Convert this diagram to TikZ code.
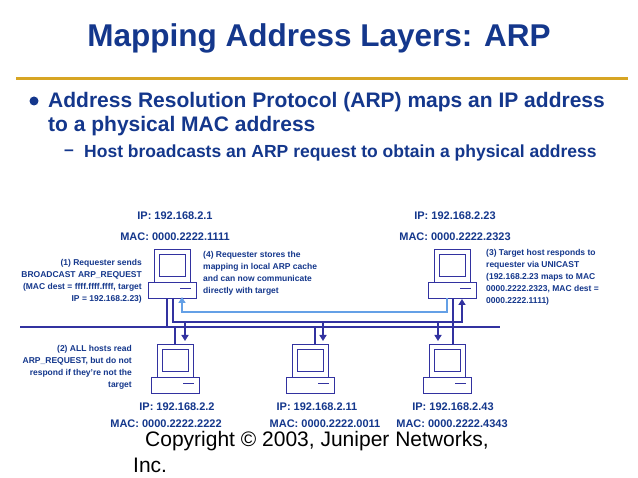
\documentclass[tikz,border=0pt]{standalone}
\usepackage{fontspec}
\setmainfont{Liberation Sans}
\usetikzlibrary{arrows.meta}
\definecolor{dblue}{RGB}{20,55,140}
\definecolor{lblue}{RGB}{100,160,230}
\definecolor{lineblue}{RGB}{50,50,160}
\definecolor{gold}{RGB}{215,165,35}
\tikzset{
 lbl/.style={text=dblue,font=\bfseries\fontsize{11}{13}\selectfont,inner sep=0},
 note/.style={text=dblue,font=\bfseries\fontsize{8.5}{12}\selectfont,inner sep=0},
 pc/.style={draw=lineblue,line width=0.8pt,fill=white},
 bus/.style={lineblue,line width=1.8pt},
 req/.style={lineblue,line width=2pt},
 rep/.style={lblue,line width=2pt},
 tip/.style={-{Triangle[length=6pt,width=7pt]}},
 pics/computer/.style={code={
   \draw[pc] (-18,-33) rectangle (18,0);
   \draw[pc] (-13,-28) rectangle (13,-6);
   \draw[pc] (-24,0) rectangle (24,16);
   \draw[lineblue,line width=1pt] (8,7) -- (19,7);
 }}
}
\begin{document}
\begin{tikzpicture}[x=1pt,y=-1pt]
\useasboundingbox[fill=white] (0,0) rectangle (638,478);
\node[text=dblue,font=\bfseries\fontsize{31.5}{36}\selectfont] (title) at (319,38) {Mapping Address Layers: ARP};
\draw[gold,line width=3pt] (16,79) -- (628,79);
\fill[dblue] (34,101) circle (4.5);
\node[anchor=west,text=dblue,font=\bfseries\fontsize{21}{24.5}\selectfont,inner sep=0,align=left] (b1) at (48,114) {Address Resolution Protocol (ARP) maps an IP address\\to a physical MAC address};
\node[anchor=west,text=dblue,font=\bfseries\fontsize{17.5}{20}\selectfont,inner sep=0] (dash) at (64,153) {–};
\node[anchor=west,text=dblue,font=\bfseries\fontsize{17.5}{20}\selectfont,inner sep=0] (b2) at (84,153) {Host broadcasts an ARP request to obtain a physical address};

\coordinate (L1) at (167,298); \coordinate (L2) at (173,298);
\coordinate (R1) at (447,298); \coordinate (R2) at (453,298);
\coordinate (B1) at (175,344); \coordinate (B2) at (315,344); \coordinate (B3) at (453,344);

% bus and drops
\coordinate (busL) at (20,327); \coordinate (busR) at (500,327);
\draw[bus] (busL) -- (busR);
\draw[lineblue,line width=1.5pt] (L1) -- (167,327) (R2) -- (453,327);
\draw[lineblue,line width=1.5pt] (B1) -- (175,327) (B2) -- (315,327) (B3) -- (453,327);

% computers
\pic at (172,282) {computer};
\pic at (452,282) {computer};
\pic at (175,377) {computer};
\pic at (310,377) {computer};
\pic at (447,377) {computer};

% request path
\draw[req,tip] (L2) -- (173,322) -- (462,322) -- (462,299);
\draw[req,tip] (185,322) -- (185,341);
\draw[req,tip] (323,322) -- (323,341);
\draw[req,tip] (438,322) -- (438,341);
% reply path
\draw[rep,tip] (R1) -- (447,312) -- (182,312) -- (182,297);

% labels
\node[lbl] (ip1) at (175,216) {IP: 192.168.2.1};
\node[lbl] (mac1) at (175,237) {MAC: 0000.2222.1111};
\node[lbl] (ip2) at (455,216) {IP: 192.168.2.23};
\node[lbl] (mac2) at (455,237) {MAC: 0000.2222.2323};
\node[lbl] (ip3) at (177,407) {IP: 192.168.2.2};
\node[lbl] (mac3) at (166,424) {MAC: 0000.2222.2222};
\node[lbl] (ip4) at (317,407) {IP: 192.168.2.11};
\node[lbl] (mac4) at (325,424) {MAC: 0000.2222.0011};
\node[lbl] (ip5) at (453,407) {IP: 192.168.2.43};
\node[lbl] (mac5) at (452,424) {MAC: 0000.2222.4343};

\node[note,anchor=north east,align=right] (n1) at (142,259) {(1) Requester sends\\BROADCAST ARP\_REQUEST\\(MAC dest = ffff.ffff.ffff, target\\IP = 192.168.2.23)};
\node[note,anchor=north west,align=left] (n4) at (203,251) {(4) Requester stores the\\mapping in local ARP cache\\and can now communicate\\directly with target};
\node[note,anchor=north west,align=left] (n3) at (486,249) {(3) Target host responds to\\requester via UNICAST\\(192.168.2.23 maps to MAC\\0000.2222.2323, MAC dest =\\0000.2222.1111)};
\node[note,anchor=north east,align=right] (n2) at (132,345) {(2) ALL hosts read\\ARP\_REQUEST, but do not\\respond if they’re not the\\target};

\node[anchor=west,font=\fontsize{21}{24}\selectfont,inner sep=0] (c1) at (145,441) {Copyright © 2003, Juniper Networks,};
\node[anchor=west,font=\fontsize{21}{24}\selectfont,inner sep=0] (c2) at (133,465) {Inc.};
\end{tikzpicture}
\end{document}
